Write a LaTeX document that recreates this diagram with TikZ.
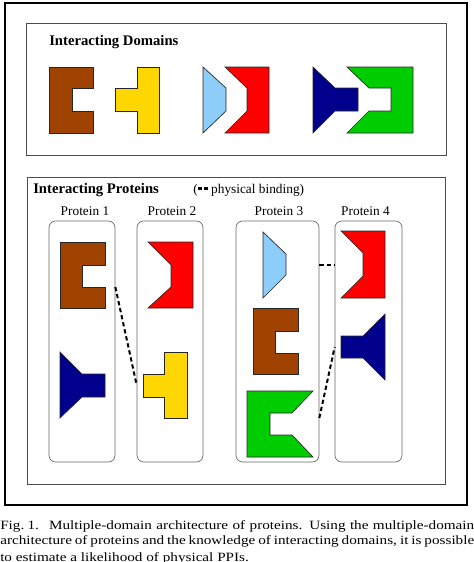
\documentclass[tikz,border=0pt]{standalone}
\usepackage{fontspec}
\setmainfont{Liberation Serif}
\newfontfamily\capfont[FakeStretch=1.2]{Liberation Serif}
\usetikzlibrary{positioning}

\definecolor{dbrown}{RGB}{160,66,0}
\definecolor{dyellow}{RGB}{255,215,0}
\definecolor{dlblue}{RGB}{140,205,250}
\definecolor{dred}{RGB}{255,0,0}
\definecolor{dnavy}{RGB}{0,0,140}
\definecolor{dgreen}{RGB}{0,205,0}

\tikzset{
  dom/.style={draw=black!85, line width=0.5pt},
  panel/.style={draw=black!70, line width=0.6pt},
  protbox/.style={draw=black!60, rounded corners=5pt, line width=0.5pt, minimum height=180.75pt, inner sep=0pt},
  bind/.style={line width=1.5pt, dash pattern=on 3.2pt off 2.2pt},
  heading/.style={font=\bfseries\fontsize{11}{13}\selectfont, anchor=base west, inner sep=0pt},
  plabel/.style={font=\fontsize{10}{12}\selectfont, anchor=base, inner sep=0pt},
  capline/.style={font=\capfont\fontsize{9.5}{11}\selectfont, anchor=base west, inner sep=0pt}
}

\begin{document}
\begin{tikzpicture}[x=0.75pt,y=-0.75pt]
\useasboundingbox (0,0) rectangle (474,562);
\clip (0,0) rectangle (474,562);
\fill[white] (0,0) rectangle (474,562);
\draw[line width=1.5pt] (5,2.5) rectangle (467,505);
\draw[panel] (26,23) rectangle (446,155);
\draw[panel] (27,177) rectangle (445,484);

\node[heading] (domtitle) at (49,45) {Interacting Domains};
\filldraw[dom,fill=dbrown] (49,67) -- (93,67) -- (93,88) -- (72,88) -- (72,111) -- (93,111) -- (93,133) -- (49,133) -- cycle;
\filldraw[dom,fill=dyellow] (137,67) -- (159,67) -- (159,133) -- (137,133) -- (137,111) -- (115,111) -- (115,88) -- (137,88) -- cycle;
\filldraw[dom,fill=dlblue] (203,67) -- (226,88) -- (226,111) -- (203,133) -- cycle;
\filldraw[dom,fill=dred] (225,67) -- (269,67) -- (269,133) -- (225,133) -- (247,111) -- (247,88) -- cycle;
\filldraw[dom,fill=dnavy] (313,67) -- (335,88) -- (358,88) -- (358,111) -- (335,111) -- (313,133) -- cycle;
\filldraw[dom,fill=dgreen] (347,67) -- (413,67) -- (413,133) -- (347,133) -- (369,111) -- (391,111) -- (391,88) -- (369,88) -- cycle;

\node[heading] (prottitle) at (33,193) {Interacting Proteins};
\node[heading,font=\fontsize{10}{12}\selectfont] (legend) at (193,193) {(\rule[2.6pt]{3pt}{1.8pt}\hspace{1.6pt}\rule[2.6pt]{3pt}{1.8pt} physical binding)};

\node[protbox,minimum width=49.5pt] (p1) at (82,341.5) {};
\node[protbox,minimum width=49.5pt] (p2) at (170,341.5) {};
\node[protbox,minimum width=62.25pt] (p3) at (277.5,341.5) {};
\node[protbox,minimum width=50.25pt] (p4) at (368.5,341.5) {};
\node[plabel] (l1) at (85,215) {Protein 1};
\node[plabel] (l2) at (172,215) {Protein 2};
\node[plabel] (l3) at (279,215) {Protein 3};
\node[plabel] (l4) at (365.5,215) {Protein 4};

\filldraw[dom,fill=dbrown] (60,242) -- (105,242) -- (105,265) -- (82,265) -- (82,287) -- (105,287) -- (105,308) -- (60,308) -- cycle;
\filldraw[dom,fill=dnavy] (60,352) -- (82,374) -- (105,374) -- (105,397) -- (82,397) -- (60,418) -- cycle;
\filldraw[dom,fill=dred] (148,242) -- (193,242) -- (193,308) -- (148,308) -- (171,287) -- (171,265) -- cycle;
\filldraw[dom,fill=dyellow] (164,352) -- (187,352) -- (187,418) -- (164,418) -- (164,397) -- (143,397) -- (143,374) -- (164,374) -- cycle;
\filldraw[dom,fill=dlblue] (263,232) -- (286,254) -- (286,275) -- (263,298) -- cycle;
\filldraw[dom,fill=dbrown] (253,308) -- (298,308) -- (298,331) -- (275,331) -- (275,353) -- (298,353) -- (298,374) -- (253,374) -- cycle;
\filldraw[dom,fill=dgreen] (247,391) -- (313,391) -- (292,413) -- (270,413) -- (270,435) -- (292,435) -- (313,457) -- (247,457) -- cycle;
\filldraw[dom,fill=dred] (341,231) -- (385,231) -- (385,298) -- (341,298) -- (363,276) -- (363,253) -- cycle;
\filldraw[dom,fill=dnavy] (385,314) -- (385,380) -- (363,358) -- (341,358) -- (341,336) -- (363,336) -- cycle;

\draw[bind] (p1.east |- 0,287) -- (p2.west |- 0,385);
\draw[bind] (p3.east |- 0,265) -- (p4.west |- 0,265);
\draw[bind] (p3.east |- 0,418) -- (p4.west |- 0,347);

\node[capline] (cap1) at (0,529) {\makebox[355.5pt][s]{Fig.\hspace{0.25em}1.\hspace{0.8em}Multiple-domain architecture of proteins. Using the multiple-domain}};
\node[capline] (cap2) at (0,544.5) {\makebox[355.5pt][s]{architecture of proteins and the knowledge of interacting domains, it is possible}};
\node[capline] (cap3) at (0,561) {to estimate a likelihood of physical PPIs.};
\end{tikzpicture}
\end{document}
